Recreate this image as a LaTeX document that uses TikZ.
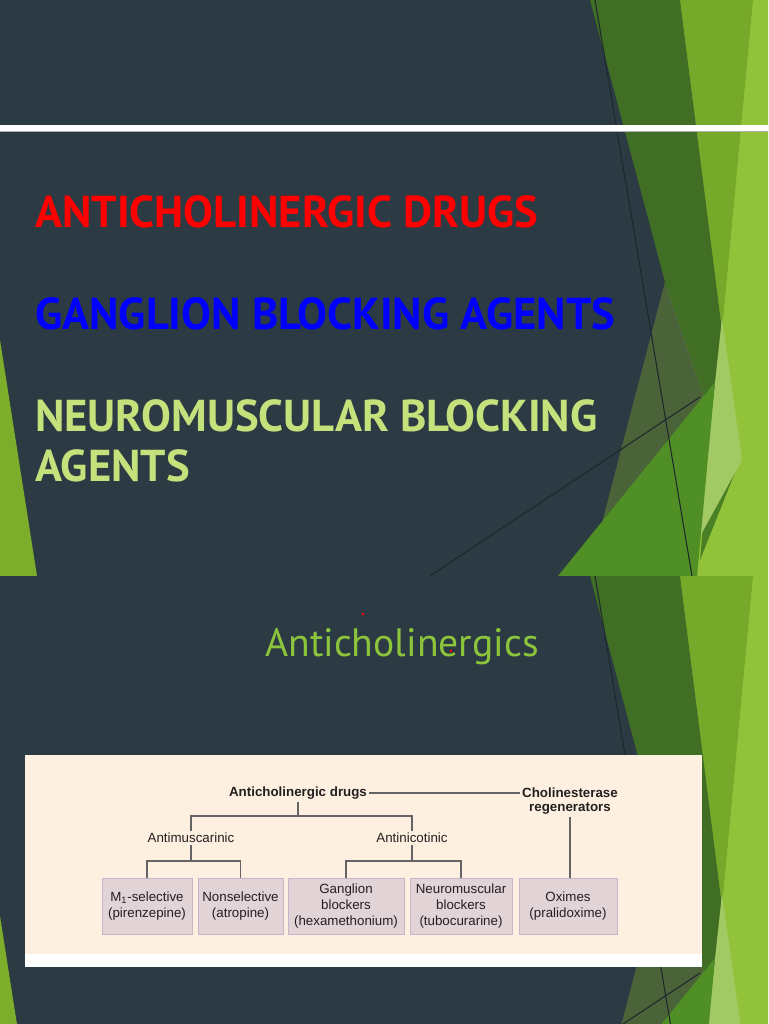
\documentclass[tikz,border=0pt]{standalone}
\usepackage{fontspec}
\setmainfont{Liberation Sans}
\newfontfamily\slidefont{PT Sans}
\usetikzlibrary{positioning,calc}

\definecolor{slate}{HTML}{2C3A43}
\definecolor{leafgreen}{HTML}{7DAE2B}
\definecolor{limegreen}{HTML}{92C23A}
\definecolor{midgreen}{HTML}{76A82A}
\definecolor{pinegreen}{HTML}{3F6E24}
\definecolor{mossgreen}{HTML}{4A8025}
\definecolor{olivegrey}{HTML}{4A6338}
\definecolor{grassgreen}{HTML}{4F8F25}
\definecolor{palegreen}{HTML}{A3C965}
\definecolor{facetline}{HTML}{1E282E}
\definecolor{titlered}{HTML}{FF0000}
\definecolor{titleblue}{HTML}{0000FF}
\definecolor{titlelime}{HTML}{C4E17C}
\definecolor{headgreen}{HTML}{8CC43C}
\definecolor{cream}{HTML}{FEF0E0}
\definecolor{boxfill}{HTML}{E2D3D7}
\definecolor{boxline}{HTML}{C9B5C9}
\definecolor{inkdark}{HTML}{231F20}
\definecolor{linkgrey}{HTML}{646466}

% facets of one slide, 768 x 576 px
\newcommand{\facetbg}{%
  \fill[slate] (0,0) rectangle (768,576);
  \fill[leafgreen] (0,340) -- (37,576) -- (0,576) -- cycle;
  \fill[limegreen] (680,0) -- (768,0) -- (768,576) -- (655,576) -- cycle;
  \fill[midgreen] (680,0) -- (753,0) -- (722,330) -- cycle;
  \fill[olivegrey] (665,282) -- (712,420) -- (600,576) -- (588,576) -- cycle;
  \fill[pinegreen] (590,0) -- (680,0) -- (722,330) -- (712,420) -- (665,282) -- cycle;
  \fill[mossgreen] (712,420) -- (722,330) -- (740,460) -- (700,560) -- cycle;
  \fill[palegreen] (722,318) -- (742,460) -- (698,540) -- cycle;
  \fill[grassgreen] (558,576) -- (715,382) -- (697,576) -- cycle;
  \draw[facetline, line width=0.8pt] (595,0) -- (692,576);
  \draw[facetline, line width=0.8pt] (430,576) -- (700,397);
}

\begin{document}
\begin{tikzpicture}[x=0.75pt, y=-0.75pt,
  title/.style={anchor=base west, inner sep=0pt, font=\slidefont\bfseries\fontsize{33.5}{40}\selectfont},
  head/.style={inner sep=1.5pt, text=inkdark, align=center, font=\bfseries\fontsize{10}{10.8}\selectfont},
  branch/.style={inner sep=1.5pt, text=inkdark, font=\fontsize{10}{12}\selectfont},
  drug/.style={draw=boxline, fill=boxfill, line width=0.75pt, anchor=north, minimum height=42pt,
    inner sep=1pt, align=center, text=inkdark, font=\fontsize{10}{12}\selectfont},
  link/.style={draw=linkgrey, line width=0.9pt}]
\useasboundingbox (0,0) rectangle (768,1024);

% top slide
\facetbg
\fill[white] (0,124.5) rectangle (768,130.5);
\draw[gray!60, line width=0.75pt] (0,131.5) -- (768,131.5);

\node[title, text=titlered] (t1) at (35,227) {ANTICHOLINERGIC DRUGS};
\node[title, text=titleblue] (t2) at (35,329) {GANGLION BLOCKING AGENTS};
\node[title, text=titlelime] (t3) at (35,431) {NEUROMUSCULAR BLOCKING};
\node[title, text=titlelime] (t4) at (35,481) {AGENTS};

% bottom slide
\begin{scope}[shift={(0,576)}]
  \clip (0,0) rectangle (768,448);
  \facetbg
\end{scope}

\node[anchor=base west, inner sep=0pt, text=headgreen, font=\slidefont\fontsize{29.7}{36}\selectfont]
  (sub) at (265,656) {Anticholinergics};
\fill[titlered] (363,614) circle (1.5);
\fill[titlered] (451,651) circle (1.5);

\fill[cream] (25,755) rectangle (702,954);
\fill[white] (25,954) rectangle (702,967);

\node[head] (acd) at (298,793) {Anticholinergic drugs};
\node[head] (cr) at (570,801) {Cholinesterase\\regenerators};
\node[branch] (am) at (191,838) {Antimuscarinic};
\node[branch] (an) at (412,838) {Antinicotinic};

\node[drug, minimum width=67.5pt] (m1) at (147,878) {M\textsubscript{1}-selective\\(pirenzepine)};
\node[drug, minimum width=63.75pt] (ns) at (240.5,878) {Nonselective\\(atropine)};
\node[drug, minimum width=87pt] (gb) at (346,878) {Ganglion\\blockers\\(hexamethonium)};
\node[drug, minimum width=76.5pt] (nm) at (461,878) {Neuromuscular\\blockers\\(tubocurarine)};
\node[drug, minimum width=73.5pt] (ox) at (568,878) {Oximes\\(pralidoxime)};

\coordinate (topbar) at (0,816);
\coordinate (midbar) at (0,861);
\draw[link] (acd.east) -- (acd.east -| cr.west);
\draw[link] (acd.south) -- (acd.south |- topbar) -| (am.north);
\draw[link] (acd.south |- topbar) -| (an.north);
\draw[link] (am.south) -- (am.south |- midbar) -| (m1.north);
\draw[link] (am.south |- midbar) -| (ns.north);
\draw[link] (an.south) -- (an.south |- midbar) -| (gb.north);
\draw[link] (an.south |- midbar) -| (nm.north);
\draw[link] (cr.south) -- (cr.south |- ox.north);
\end{tikzpicture}
\end{document}
